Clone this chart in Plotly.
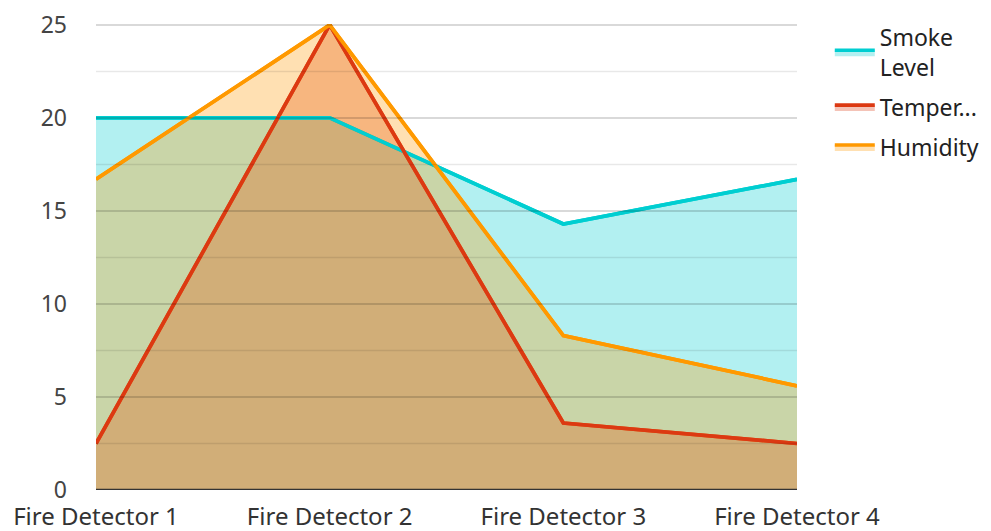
import plotly.graph_objects as go

categories = ["Fire Detector 1", "Fire Detector 2", "Fire Detector 3", "Fire Detector 4"]
smoke_level = [20, 20, 14.3, 16.7]
temperature = [2.5, 25, 3.6, 2.5]
humidity = [16.7, 25, 8.3, 5.6]
series_names = ["Smoke<br>Level", "Temper...", "Humidity"]
y_ticks = [0, 5, 10, 15, 20, 25]
minor_ticks = [2.5, 7.5, 12.5, 17.5, 22.5]

line_colors = ["#00CED1", "#DC3912", "#FF9900"]
fill_colors = ["rgba(0,206,209,0.3)", "rgba(220,57,18,0.3)", "rgba(255,153,0,0.3)"]

xs = list(range(len(categories)))
series = [smoke_level, temperature, humidity]
fig = go.Figure()
# filled areas (with legend entries)
for i, (name, vals, lc, fc) in enumerate(zip(series_names, series, line_colors, fill_colors)):
    fig.add_trace(go.Scatter(
        x=xs, y=vals, name=name, mode="lines", legendgroup=f"g{i}",
        line=dict(color=lc, width=3.7),
        fill="tozeroy", fillcolor=fc,
    ))
# lines drawn on top of all fills
for i, (name, vals, lc) in enumerate(zip(series_names, series, line_colors)):
    fig.add_trace(go.Scatter(
        x=xs, y=vals, name=name, mode="lines", legendgroup=f"g{i}",
        line=dict(color=lc, width=3.7), showlegend=False, hoverinfo="skip",
    ))

shapes = []
for t in y_ticks[1:]:
    shapes.append(dict(type="line", xref="paper", yref="y", x0=0, x1=1, y0=t, y1=t,
                       line=dict(color="rgba(0,0,0,0.2)", width=1.5), layer="above"))
for t in minor_ticks:
    shapes.append(dict(type="line", xref="paper", yref="y", x0=0, x1=1, y0=t, y1=t,
                       line=dict(color="rgba(0,0,0,0.09)", width=1.5), layer="above"))
shapes.append(dict(type="line", xref="paper", yref="y", x0=0, x1=1, y0=0, y1=0,
                   line=dict(color="#333333", width=2.5), layer="above"))

# page body has an 8px default margin, so the figure is offset by 8px
fig.update_layout(
    width=983, height=523,
    margin=dict(l=88, r=194, t=16, b=41),
    paper_bgcolor="white", plot_bgcolor="white",
    font=dict(family="Noto Sans, Open Sans, sans-serif", size=23, color="#444444"),
    shapes=shapes,
    showlegend=True,
    legend=dict(x=0.836, xanchor="left", xref="container",
                y=0.985, yanchor="top", yref="container",
                font=dict(size=23, color="#222222"), tracegroupgap=7,
                itemwidth=40),
    xaxis=dict(tickmode="array", tickvals=xs, ticktext=categories,
               range=[0, 3], showgrid=False, zeroline=False, showline=False,
               ticks="", tickfont=dict(color="#333333", size=24), automargin=False,
               ticklabelstandoff=10, ticklabeloverflow="allow"),
    yaxis=dict(tickmode="array", tickvals=y_ticks, range=[0, 25.05],
               showgrid=False, zeroline=False, showline=False, ticks="",
               ticklabelstandoff=28, automargin=False, ticklabeloverflow="allow"),
)
fig.write_html("out.html")
